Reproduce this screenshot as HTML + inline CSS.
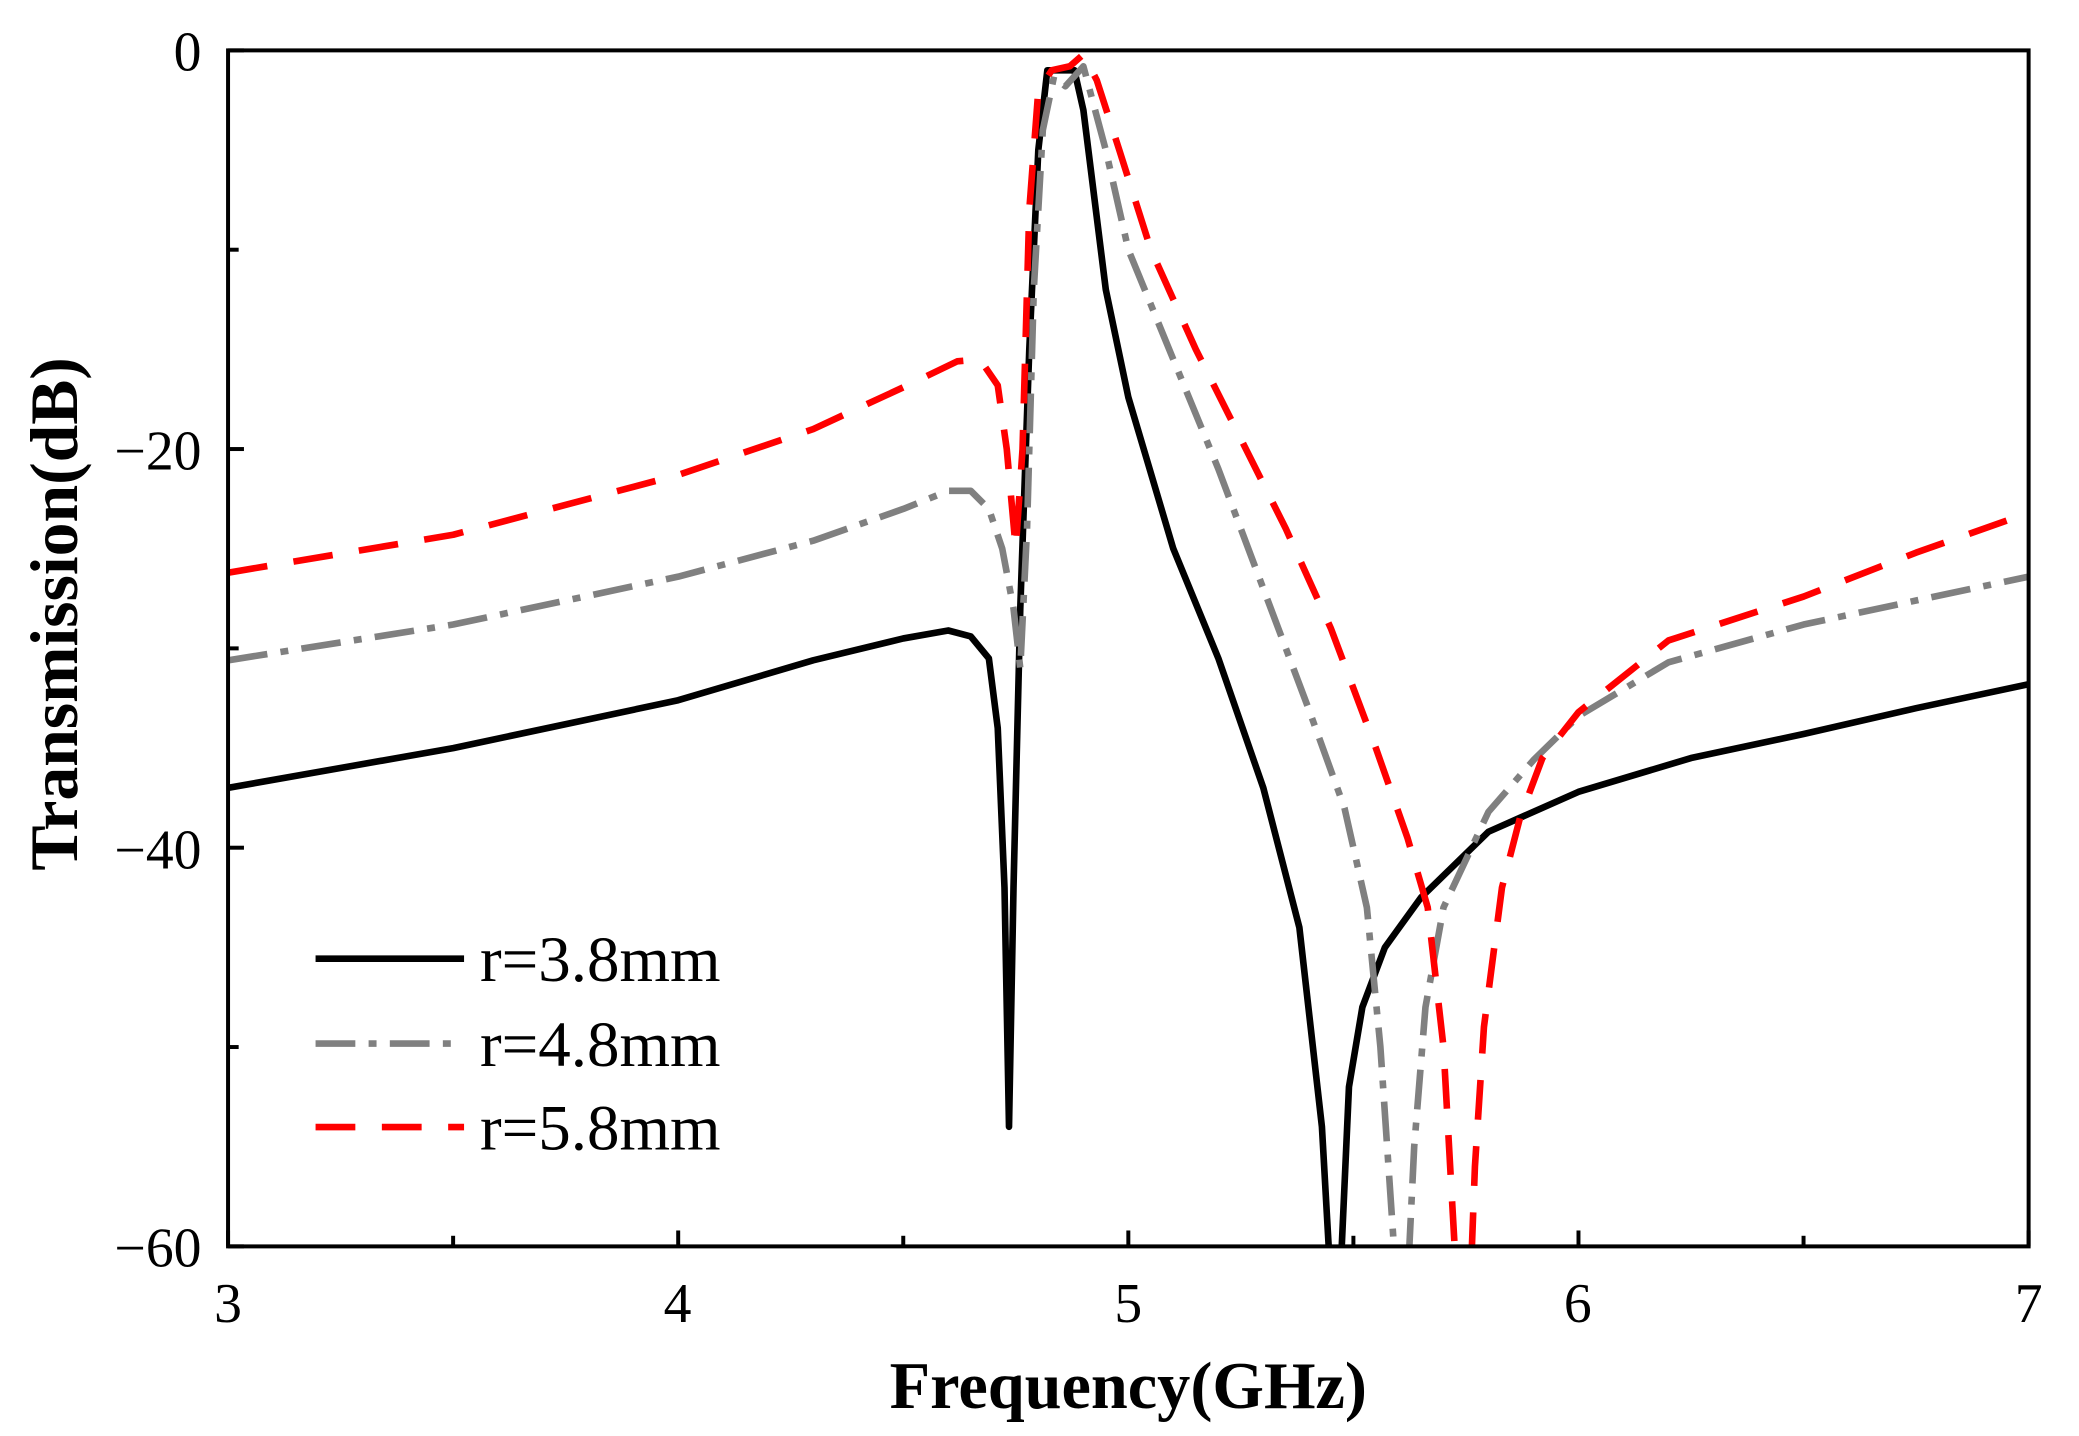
<!DOCTYPE html>
<html><head><meta charset="utf-8"><style>
html,body{margin:0;padding:0;background:#fff}
svg{display:block}
text{font-family:"Liberation Serif",serif}
</style></head><body>
<svg id="s" width="2079" height="1436" viewBox="0 0 1568 1083" preserveAspectRatio="none" xmlns="http://www.w3.org/2000/svg">
<defs><clipPath id="c"><rect x="172" y="38" width="1358" height="902"/></clipPath></defs>
<rect width="1568" height="1083" fill="#fff"/>
<g id="curves" clip-path="url(#c)"></g>
<rect x="172" y="38" width="1358" height="902" fill="none" stroke="#000" stroke-width="3"/>
<g id="ticks" stroke="#000" stroke-width="3"></g>
<g font-size="42" fill="#000">
<text x="152" y="53" text-anchor="end">0</text>
<text x="152" y="354" text-anchor="end">−20</text>
<text x="152" y="655" text-anchor="end">−40</text>
<text x="152" y="955" text-anchor="end">−60</text>
<text x="172" y="997" text-anchor="middle">3</text>
<text x="511" y="997" text-anchor="middle">4</text>
<text x="851" y="997" text-anchor="middle">5</text>
<text x="1190" y="997" text-anchor="middle">6</text>
<text x="1530" y="997" text-anchor="middle">7</text>
</g>
<text x="851" y="1062" font-size="50" font-weight="bold" text-anchor="middle">Frequency(GHz)</text>
<text transform="translate(58,463) rotate(-90)" font-size="51" font-weight="bold" text-anchor="middle">Transmission(dB)</text>
<line x1="238" y1="723" x2="350" y2="723" stroke="#000" stroke-width="5"/>
<line x1="238" y1="787" x2="350" y2="787" stroke="#808080" stroke-width="5" stroke-dasharray="30,10,6,10"/>
<line x1="238" y1="850" x2="350" y2="850" stroke="#f00" stroke-width="5" stroke-dasharray="30,20"/>
<g font-size="49"><text x="362" y="740">r=3.8mm</text><text x="362" y="804">r=4.8mm</text><text x="362" y="867">r=5.8mm</text></g>
</svg>
<script>
var X=f=>172+(f-3)*339.5, Y=d=>38-d*15.033;
var ns="http://www.w3.org/2000/svg";
function add(pts,col,dash){var p=document.createElementNS(ns,"polyline");
p.setAttribute("points",pts.map(a=>X(a[0]).toFixed(1)+","+Y(a[1]).toFixed(1)).join(" "));
p.setAttribute("fill","none");p.setAttribute("stroke",col);p.setAttribute("stroke-width","5");
p.setAttribute("stroke-linejoin","round");if(dash)p.setAttribute("stroke-dasharray",dash);
document.getElementById("curves").appendChild(p);}
add([[3,-37],[3.5,-35],[4,-32.6],[4.3,-30.6],[4.5,-29.5],[4.6,-29.1],[4.65,-29.4],[4.69,-30.5],[4.71,-34],[4.725,-42],[4.735,-54],[4.745,-42],[4.76,-28],[4.78,-15],[4.8,-5],[4.82,-1],[4.88,-1],[4.9,-3],[4.95,-12],[5,-17.4],[5.1,-25],[5.2,-30.5],[5.3,-37],[5.38,-44],[5.43,-54],[5.45,-62]],"#000");
add([[5.47,-62],[5.49,-52],[5.52,-48],[5.57,-45],[5.65,-42.5],[5.8,-39.2],[6,-37.2],[6.25,-35.5],[6.5,-34.3],[6.75,-33],[7,-31.8]],"#000");
add([[3,-30.6],[3.5,-28.8],[4,-26.4],[4.3,-24.6],[4.5,-23],[4.6,-22.1],[4.65,-22.1],[4.69,-23],[4.72,-25],[4.745,-28],[4.76,-31],[4.775,-24],[4.79,-12],[4.81,-4],[4.835,-1.3],[4.86,-1.8],[4.9,-0.8],[4.95,-5],[5,-10],[5.1,-15.5],[5.2,-21],[5.3,-27],[5.4,-33],[5.48,-38],[5.53,-43],[5.56,-50],[5.59,-60],[5.6,-62],[5.62,-62],[5.635,-55],[5.66,-48],[5.7,-43],[5.8,-38.2],[5.9,-35.6],[6,-33.4],[6.2,-30.7],[6.5,-28.8],[6.75,-27.6],[7,-26.4]],"#808080","30,10,6,10");
add([[3,-26.2],[3.5,-24.3],[4,-21.3],[4.3,-19],[4.5,-16.9],[4.62,-15.6],[4.67,-15.5],[4.71,-16.8],[4.73,-20],[4.75,-25],[4.765,-20],[4.78,-8],[4.8,-2],[4.83,-1],[4.87,-0.8],[4.9,-0.2],[4.93,-1.5],[4.98,-5],[5.05,-10],[5.15,-15],[5.25,-19.5],[5.35,-24],[5.45,-29],[5.55,-35],[5.62,-39.5],[5.665,-43],[5.7,-50],[5.72,-58],[5.73,-62],[5.76,-62],[5.77,-56],[5.79,-49],[5.83,-42],[5.87,-38.5],[5.92,-35.5],[6,-33.2],[6.2,-29.6],[6.5,-27.4],[6.75,-25.2],[7,-23.2]],"#f00","30,20");
var t=document.getElementById("ticks"),s="";
for(var i=0;i<=8;i++){var x=X(3+i*0.5),L=i%2?8:12;s+='<line x1="'+x+'" y1="940" x2="'+x+'" y2="'+(940-L)+'"/>';}
for(var j=0;j<=6;j++){var y=Y(-j*10),L=j%2?8:12;s+='<line x1="172" y1="'+y+'" x2="'+(172+L)+'" y2="'+y+'"/>';}
t.innerHTML=s;
</script>
</body></html>
